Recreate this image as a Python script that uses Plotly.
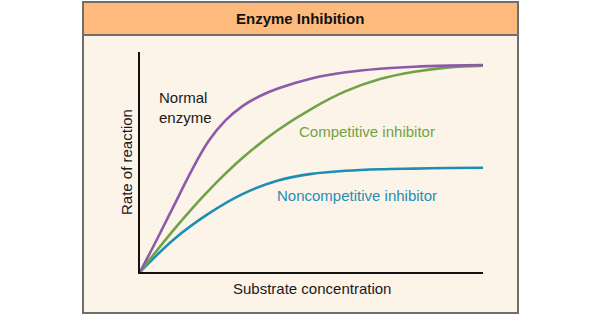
import plotly.graph_objects as go

# Data (arbitrary units)
x_normal = [0, 0.5, 1, 1.5, 2, 2.5, 3, 3.5, 4, 5, 6, 7, 8, 9, 10]
y_normal = [0, 15, 30.5, 46, 59.5, 69, 75.5, 80, 83.3, 88, 90.8, 92.4, 93.3, 93.8, 94.1]

x_comp = [0, 1, 2, 3, 4, 5, 6, 7, 8, 9, 10]
y_comp = [0, 19.5, 37, 52, 64.3, 74.2, 82.2, 87.7, 91.0, 93.0, 93.8]

x_noncomp = [0, 1, 2, 3, 4, 5, 6, 7, 8, 9, 10]
y_noncomp = [0, 15, 26.5, 35.5, 41.5, 44.6, 46.0, 46.7, 47.0, 47.25, 47.4]

title_text = "Enzyme Inhibition"
x_label = "Substrate concentration"
y_label = "Rate of reaction"
series_labels = ["Normal<br>enzyme", "Competitive inhibitor", "Noncompetitive inhibitor"]

W, H = 600, 315
FONT = "Liberation Sans, Arial, sans-serif"
PURPLE = "#8C5AA8"
GREEN = "#6FA346"
BLUE = "#1F8EB4"
CREAM = "#FCF3E9"
ORANGE = "#FDBA7C"
BORDER = "#6E6E6E"


def px(x):
    return x / W


def py(y):
    return 1 - y / H


fig = go.Figure()
for xs, ys, col in [(x_noncomp, y_noncomp, BLUE), (x_comp, y_comp, GREEN), (x_normal, y_normal, PURPLE)]:
    fig.add_trace(go.Scatter(x=xs, y=ys, mode="lines",
                             line=dict(color=col, width=2.6, shape="spline", smoothing=1.0),
                             cliponaxis=False, hoverinfo="skip", showlegend=False))

shapes = [
    # panel frame
    dict(type="rect", xref="paper", yref="paper", x0=px(83), x1=px(518), y0=py(313), y1=py(2),
         fillcolor=CREAM, line=dict(color=BORDER, width=2), layer="below"),
    # header band
    dict(type="rect", xref="paper", yref="paper", x0=px(83), x1=px(518), y0=py(35), y1=py(2),
         fillcolor=ORANGE, line=dict(color=BORDER, width=2), layer="below"),
]

annotations = [
    dict(text="<b>" + title_text + "</b>", x=px(300), y=py(18.5), xref="paper", yref="paper",
         showarrow=False, xanchor="center", yanchor="middle", font=dict(size=15, color="#111111")),
    dict(text=series_labels[0], x=px(157), y=py(107), xref="paper", yref="paper",
         showarrow=False, xanchor="left", yanchor="middle", align="left",
         font=dict(size=15, color="#1a1a1a")),
    dict(text=series_labels[1], x=px(297), y=py(131), xref="paper", yref="paper",
         showarrow=False, xanchor="left", yanchor="middle", font=dict(size=15, color=GREEN)),
    dict(text=series_labels[2], x=px(275), y=py(195), xref="paper", yref="paper",
         showarrow=False, xanchor="left", yanchor="middle", font=dict(size=15, color=BLUE)),
    dict(text=x_label, x=px(312), y=py(288), xref="paper", yref="paper",
         showarrow=False, xanchor="center", yanchor="middle", font=dict(size=15, color="#1a1a1a")),
    dict(text=y_label, x=px(127), y=py(162), xref="paper", yref="paper", textangle=-90,
         showarrow=False, xanchor="center", yanchor="middle", font=dict(size=15, color="#1a1a1a")),
]

fig.update_layout(
    width=W, height=H,
    margin=dict(l=0, r=0, t=0, b=0),
    paper_bgcolor="white",
    plot_bgcolor="rgba(0,0,0,0)",
    font=dict(family=FONT),
    shapes=shapes,
    annotations=annotations,
    xaxis=dict(domain=[px(140), px(483)], range=[0, 10], showline=True, linecolor="#111111",
               linewidth=2, showgrid=False, zeroline=False, showticklabels=False, ticks=""),
    yaxis=dict(domain=[py(272), py(52)], range=[0, 100], showline=True, linecolor="#111111",
               linewidth=2, showgrid=False, zeroline=False, showticklabels=False, ticks=""),
)

fig.write_html("out.html")
